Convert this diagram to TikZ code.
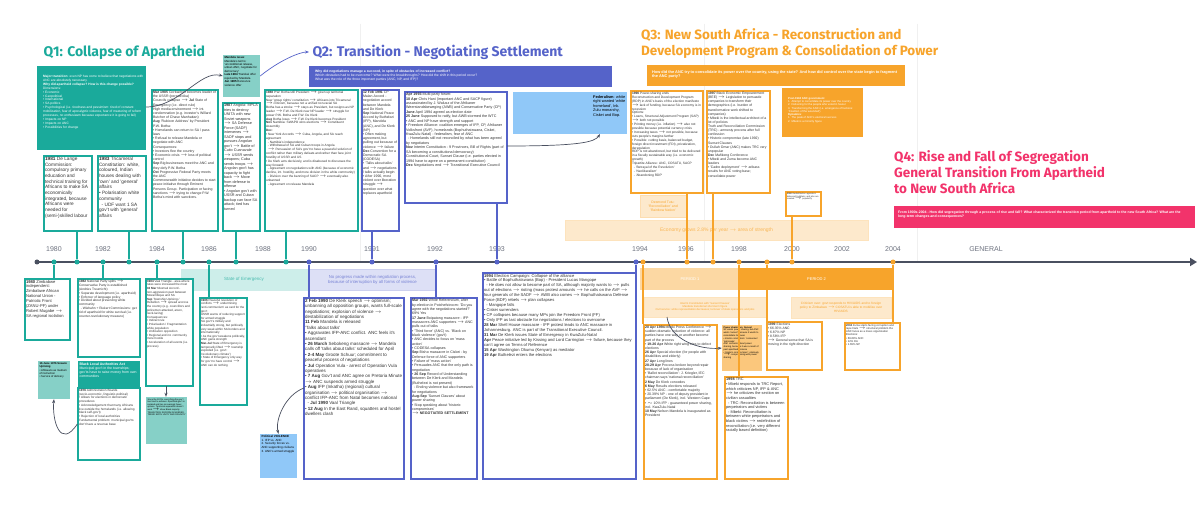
\documentclass[tikz,border=0pt]{standalone}
\usepackage{fontspec}
\setmainfont{Liberation Sans}
\newfontfamily\titlefont{Fira Sans}
\usetikzlibrary{fit,arrows.meta}
\definecolor{cteal}{HTML}{1AAA9B}
\definecolor{cblue}{HTML}{5563C9}
\definecolor{corange}{HTML}{F7A42B}
\definecolor{cpink}{HTML}{F2336B}
\definecolor{caxis}{HTML}{4A5060}
\definecolor{cltteal}{HTML}{CDEEEA}
\definecolor{cstick}{HTML}{86D0C7}
\definecolor{cltblue}{HTML}{DDE0F6}
\definecolor{cskyblue}{HTML}{90C8F8}
\definecolor{cltorange}{HTML}{FDE9CC}
\definecolor{cmidorange}{HTML}{FBC77C}
\newcommand{\fst}[1]{\fontsize{#1pt}{\dimexpr #1pt*12/10\relax}\selectfont}
\newcommand{\fs}[1]{\fontsize{\dimexpr #1pt*125/100\relax}{\dimexpr #1pt*150/100\relax}\selectfont}
\tikzset{
 frame/.style={inner sep=0pt,line width=1.3pt,fill=white},
 txt/.style={anchor=north west,inner sep=1.5pt,align=flush left,text=black!80},
 note/.style={anchor=north west,inner sep=1.5pt,align=flush left},
 dot/.style={circle,inner sep=0pt,minimum size=5pt},
 yr/.style={text=caxis!80,font=\fst{7}},
 conn/.style={line width=1.3pt},
 curv/.style={draw=caxis,line width=0.7pt,-{Stealth[length=4pt]}},
}
\newcommand{\bx}[8]{%
 \node[frame,draw=#6,fit={(#2,#3)(#4,#5)}] (#1) {};
 \pgfmathsetmacro\tw{#4-#2-3}
 \node[txt,text width=\tw pt,font=\fs{#7}] at (#1.north west) {#8};}
\begin{document}
\begin{tikzpicture}[x=1pt,y=-1pt]
\useasboundingbox (0,0) rectangle (1200,505);
\fill[white] (0,0) rectangle (1200,505);
\draw[black!6] (360,24) -- (360,262) (704,24) -- (704,262) (917,24)--(917,262);
\node[anchor=west,text=cteal,font=\titlefont\bfseries\fst{14}] (q1) at (40,52) {Q1: Collapse of Apartheid};
\node[anchor=west,text=cblue,font=\titlefont\bfseries\fst{14}] (q2) at (309,52) {Q2: Transition - Negotiating Settlement};
\node[anchor=north west,text=corange,font=\titlefont\bfseries\fst{13.5},align=left,inner sep=0pt] (q3) at (641,28) {Q3: New South Africa - Reconstruction and\\Development Program \& Consolidation of Power};
\node[anchor=north west,text=cpink,font=\titlefont\bfseries\fst{13.5},align=left,inner sep=0pt] (q4) at (894,150) {Q4: Rise and Fall of Segregation\\General Transition From Apartheid\\to New South Africa};
\node[fill=cteal,inner sep=0pt,fit={(37,66)(146,150)}] (q1b) {};
\node[note,text width=100pt,inner sep=2pt,text=white,font=\fs{2.6}] at (41,73) {\textbf{Major transition}: even NP has come to believe that negotiations with ANC are absolutely necessary.\\ \textbf{Why did apartheid collapse? How is this change possible?}\\Dimensions:\\ \textbullet\ Economic\\ \textbullet\ Geopolitical\\ \textbullet\ International\\ \textbullet\ SA politics\\ \textbullet\ Psychological (i.e. tiredness and pessimism: tired of constant mobilization, fear of apocalyptic violence, fear of mastering of reform processes, no enthusiasm because expectance it is going to fail)\\ \textbullet\ Impacts on NP\\ \textbullet\ Impacts on ANC\\ \textbullet\ Possibilities for change};
\node[fill=cstick,inner sep=0pt,fit={(223,55)(260,97)}] (mand) {};
\node[note,text width=34pt,font=\fs{2.3}] at (mand.north west) {\textbf{Mandela issue}:\\Mandela's terms: 'unconditional release, unban ANC, negotiate for democracy'\\ \textbf{Late 1984} Transkei offer rejected by Mandela\\ \textbf{Jan 1985} Renounce violence offer};
\node[fill=cblue,inner sep=0pt,fit={(309,66)(612,87)}] (q2b) {};
\node[note,text width=296pt,inner sep=2pt,text=white,font=\fs{2.7}] at (313,68) {\textbf{Why did negotiations manage a succeed, in spite of obstacles of increased conflict?}\\Which obstacles had to be overcome? What were the breakthroughs? How did the shift in this period occur?\\What was the role of the three important parties (ANC, NP, and IFP)?};
\node[fill=corange,inner sep=0pt,fit={(647,65)(905,86)}] (q3b) {};
\node[note,text width=250pt,inner sep=2pt,text=white,font=\bfseries\fs{3.1}] at (650,68) {How did the ANC try to consolidate its power over the country, using the state? And how did control over the state begin to fragment the ANC party?};
\node[fill=corange,inner sep=0pt,fit={(782,88)(863,137)}] (post) {};
\node[note,text width=76pt,inner sep=2pt,text=white,font=\fs{2.2}] at (786,95) {\textbf{Post-1994 ANC government}\\1. Attempt to consolidate its power over the country\\2. Delivering for the people who voted in favour\\3. Transforming the ANC (i.e. emergence of factions: 'Coalition of the wounded')\\ \textbf{Dynamics}:\\1. The peak of ANC's electoral success\\2. Mbeki is a minority figure};
\node[fill=cpink,inner sep=0pt,fit={(894,206)(1195,228)}] (q4b) {};
\node[note,text width=296pt,inner sep=2pt,text=white,font=\bfseries\fs{2.8}] at (896,209) {From 1900s-2004 - How did segregation through a process of rise and fall? What characterized the transition period from apartheid to the new South Africa? What are the long-term changes and consequences?};
\node[fill=cskyblue,inner sep=0pt,fit={(513,92)(627,134)}] (fed) {};
\node[note,text width=35pt,inner sep=2pt,font=\fs{3.1}] at (591,93) {\textbf{Federalism}: white right wanted 'white homeland', Ink. Zulu monarchy, Ciskei and Bop.};
\bx{b81}{44}{156}{92}{231}{cteal}{3.8}{\textbf{1981} De Lange Commission: compulsory primary education and technical training for Africans to make SA economically integrated, because Africans were needed for (semi-)skilled labour}
\bx{b83}{98}{156}{146}{231}{cteal}{3.8}{\textbf{1983} Tricameral Constitution: white, coloured, Indian houses dealing with 'own' and 'general' affairs\\ \textbullet\ Polarisation white community\\ \ \ - UDF want 1 SA gov't with 'general' affairs}
\bx{b85}{152}{90}{218}{231}{cteal}{2.8}{\textbf{Mar 1985} Gorbachev becomes leader of the USSR (perestroika)\\Councils collapse $\to$ \textbf{Jul} State of Emergency (i.e. direct rule)\\High media environment $\to$ int. condemnation (e.g. investor's Willard Butcher of Chase Manhattan)\\ \textbf{Aug} 'Rubicon Address' by President P.W. Botha:\\ \textbullet\ Homelands can return to SA / pass laws\\ \textbullet\ Refusal to release Mandela or negotiate with ANC\\Consequences:\\ \textbullet\ Investors flee the country\\ \textbullet\ Economic crisis $\to$ loss of political control\\ \textbf{Sep} Big businesses meet the ANC and they defy P.W. Botha\\ \textbf{Oct} Progressive Federal Party meets the ANC\\Commonwealth initiative decides to start peace initiative through Eminent Persons Group. Participation or facing sanctions $\to$ trying to change P.W. Botha's mind with sanctions.}
\bx{b87}{223}{103}{260}{231}{cteal}{3.0}{\textbf{1987} Angola: MPLA tries to destroy UNITA with new Soviet weapons $\to$ SA Defense Force (SADF) intervenes $\to$ SADF stops and pursues Angolan gov't $\to$ Battle of Cuito Cuanavale $\to$ USSR sends weapons; Cuba sends troops $\to$ Angolan gov't has capacity to fight back $\to$ Move from defense to offense\\ \textbullet\ Angolan gov't with USSR and Cuban backup can face SA attack; tied has turned}
\bx{b88}{265}{90}{358}{231}{cteal}{2.55}{\textbf{1988} P.W. Botha still President $\to$ given up territorial separation\\New 'group rights' constitution $\to$ Africans into Tricameral $\to$ criticism, because not a unified non-racial SA\\Botha has a stroke $\to$ stays as President, but resigns as NP leader $\to$ F.W. De Klerk new NP leader $\to$ struggle for power P.W. Botha and F.W. De Klerk\\ \textbf{Aug} Botha loses $\to$ F.W. De Klerk becomes President\\ \textbf{Nov} Namibia: SWAPO wins elections $\to$ Constituent Assembly\\ \textbf{Dec}:\\ \textbullet\ New York Accords $\to$ Cuba, Angola, and SA reach agreement\\ \ \ - Namibia's independence\\ \ \ - Withdrawal of SA and Cuban troops in Angola\\ \ \ $\to$ Persuasion of SA's gov't to have a peaceful solution of conflict rather than military defeats and rather than face joint hostility of USSR and US\\ \textbullet\ De Klerk acts decisively, and is disabused to discusses the way forward:\\ \ \ - Agreement on negotiations with ANC (because of economic decline, int. hostility, and more division in the white community)\\ \ \ - Division over the banning of SACP $\to$ eventually also unbanned\\ \ \ - Agreement on release Mandela}
\bx{b91}{362}{90}{399}{231}{cblue}{2.8}{\textbf{12 Feb 1991} CP Malan Accord - negotiation accord between Mandela and De Klerk\\ \textbf{Sep} National Peace Accord by Buthelezi (IFP), Mandela (ANC), and De Klerk (NP)\\ \textbullet\ Often making agreement, but pulling out because of violence $\to$ failure\\ \textbf{Dec} Convention for a Democratic SA (CODESA)\\ \textbullet\ 'Talks about talks' and $\to$ negotiations / talks actually begin\\ \textbullet\ After 1990, most violent over liberation struggle $\to$ question over what replaces apartheid}
\bx{b93}{405}{92}{507}{203}{cblue}{2.95}{\textbf{Apr 1993} Multi-party forum:\\ \textbf{10 Apr} Chris Hani (important ANC and SACP figure) assassinated by J. Walusz of the Afrikaner Weerstandsbeweging (AWB) and Conservative Party (CP)\\ \textbf{June} April 1994 agreed as election date\\ \textbf{25 June} Supposed to ratify, but AWB stormed the WTC\\ \textbullet\ ANC and NP have strength and support\\ \textbullet\ Freedom Alliance: coalition emerges of IFP, CP, Afrikaner Volksfront (AVF), homelands (Bophuthatswana, Ciskei, KwaZulu-Natal) - federalism, fear of ANC\\ \ \ - Homelands still not reconciled by what has been agreed by negotiators\\ \textbf{Nov} Interim Constitution - 9 Provinces, Bill of Rights (part of SA becoming a constitutional democracy)\\Constitutional Court, Sunset Clause (i.e. parties elected in 1994 have to agree on a permanent constitution)\\ \textbf{Dec} Negotiations end $\to$ Transitional Executive Council}
\bx{b96}{631}{91}{703}{193}{corange}{2.6}{\textbf{1996} Power-sharing ends\\Reconstruction and Development Program (RDP) in ANC's basis of the election manifesto $\to$ lack of funding, because SA economy is in recession\\Options:\\ \textbullet\ Loans, Structural Adjustment Program (SAP) $\to$ both not possible\\ \textbullet\ Printing money (i.e. inflation) $\to$ also not possible because potential currency crisis\\ \textbullet\ Increasing taxes $\to$ not possible, because cuts people's margins farther\\ \textbullet\ Possible: cutting basis, balanced budget, foreign direct investment (FDI), privatization, deregulation\\RDP is not abandoned, but tried to be delivered in a fiscally sustainable way (i.e. economic growth)\\Tripartite Alliance: ANC, COSATU, SACP\\ \ \ - 'Betrayal of the Revolution'\\ \ \ - 'Neoliberalism'\\ \ \ - 'Abandoning RDP'}
\bx{b97}{707}{91}{770}{193}{corange}{2.75}{\textbf{1997} Black Economic Empowerment (BEE) $\to$ Legislation to persuade companies to transform their demographics (i.e. burden of transformative work shifted to companies)\\ \textbullet\ Mbeki is the intellectual architect of a lot of policies\\Truth and Reconciliation Commission (TRC) - amnesty process after full confession\\ \textbullet\ Historic compromise (late 1992) Sunset Clauses\\ \textbullet\ Dullah Omar (ANC) makes TRC very unpopular\\ \textbf{Dec} Mafikeng Conference\\ \textbullet\ Mbeki and Zuma become ANC leaders\\ \textbullet\ 'Cadre deployment' $\to$ aribass results for ANC voting base; consolidate power}
\node[fill=cltorange,draw=cmidorange!60,inner sep=0pt,fit={(640,195)(686,217)}] (tutu) {};
\node[text=corange,font=\fst{3.4},align=center] at (tutu) {Desmond Tutu:\\'Reconciliation' and\\'Rainbow Nation'};
\bx{b00}{786}{192}{821}{216}{corange}{1.75}{\textbf{2000} Redistribution agenda is delivered by Mbeki, and jobs are created $\to$ popularity}
\node[fill=cltorange,draw=cmidorange!50,inner sep=0pt,fit={(565,220)(868,240)}] (econ) {};
\node[text=corange!80,font=\fst{5}] at (econ) {Economy grows 2.8\% per year $\to$ area of strength};
\coordinate (tstart) at (37,262);
\coordinate (tend) at (1197,262);
\draw[caxis,line width=2pt,-{Triangle[length=7pt,width=8pt]}] (tstart) -- (tend);
\node[dot,fill=caxis] at (tstart) {};
\foreach \n/\x/\c in {d1/54/cteal,d2/77/cteal,d3/103/cteal,d4/129/cteal,d5/157/cteal,d6/183/cteal,d7/209/cteal,d8/236/cteal,d9/286/cteal,d10/309/cblue,d11/372/cblue,d12/436/cblue,d13/497/cblue,d14/636/cblue,d15/643/corange,d16/687/corange,d17/713/corange,d18/739/corange,d19/767/corange,d20/792/corange,d21/893/corange}
  \node[dot,fill=\c] (\n) at (\x,262) {};
\foreach \y/\x in {1980/54,1982/103,1984/157,1986/209,1988/263,1990/309,1991/372,1992/435,1993/497,1994/640,1996/686,1998/739,2000/792,2002/842,2004/893}
  \node[yr] at (\x,249) {\y};
\node[yr] at (986,249) {GENERAL};
\foreach \b/\d/\c in {b81/d2/cteal,b83/d4/cteal,b85/d6/cteal,b87/d8/cteal,b88/d9/cteal,b91/d11/cblue,b93/d13/cblue,b96/d16/corange,b97/d17/corange,b00/d20/corange}
  \draw[conn,\c] (\d) -- (\d |- \b.south);
\node[fill=cltteal,draw=cstick!40,inner sep=0pt,fit={(181,269)(307,290)}] (soe) {};
\node[text=cteal!80,font=\fst{4.5}] at (soe) {State of Emergency};
\node[fill=cltblue,draw=cblue!30,inner sep=0pt,fit={(309,269)(436,290)}] (nop) {};
\node[text=cblue!80,font=\fst{4.3},align=center] at (nop) {No progress made within negotiation process,\\because of interruption by all forms of violence};
\node[fill=cmidorange!70,inner sep=0pt,fit={(640,268)(740,290)}] (p1) {};
\node[text=white,font=\fst{4}] at (p1) {PERIOD 1};
\node[fill=corange,inner sep=0pt,fit={(740,268)(893,290)}] (p2) {};
\node[text=white,font=\fst{4}] at (p2) {PERIOD 2};
\node[fill=cltorange,draw=cmidorange!50,inner sep=0pt,fit={(644,297)(766,317)}] (interim) {};
\node[text=corange,font=\fst{2.7},align=center] at (interim) {Interim Constitution with 'Sunset Clauses'\\Mandela transitional short-term figure\\Civil service: white representation decreases; turnover of state operations and jobs};
\node[fill=cltorange,draw=cmidorange!50,inner sep=0pt,fit={(791,297)(891,318)}] (crit) {};
\node[text=corange,font=\fst{3.2},align=center] at (crit) {Criticism over: govt responds to HIV/AIDS and to foreign\\policy to Zimbabwe $\to$ COSATU is able to mobilize over\\HIV/AIDS};
\bx{b80}{25}{279}{70}{340}{cteal}{3.3}{\textbf{1980} Zimbabwe independent: Zimbabwe African National Union - Patriotic Front (ZANU-PF) under Robert Mugabe $\to$ SA regional isolation}
\bx{b82}{78}{279}{140}{357}{cteal}{2.6}{\textbf{1982} National Party splits $\to$ Conservative Party is established (Andries Treurnicht)\\ \textbullet\ Separate development (i.e. apartheid)\\ \textbullet\ Enforcer of language policy\\ \textbullet\ Divided about preserving white community\\ \ \ - Wiehahn + Riekert Commissions: get rid of apartheid for white survival (i.e. counter-revolutionary measure)}
\bx{b84}{146}{279}{193}{386}{cteal}{2.4}{\textbf{1984} Vaal Triangle - area where rates were increased the most\\ \textbf{16 Mar} Nkomati Accord - non-aggression pact between Mozambique and SA\\ \textbf{Sep} Township Uprising / Rebellion $\to$ spread accross the country (e.g. councillors and policemen attacked, arson, neck-lacing)\\Consequences:\\ \textbullet\ Indirect rule\\ \textbullet\ Polarisation / Frag\-mentation white population\\ \textbullet\ Unification opposition\\ \textbullet\ Regional and int. community more hostile\\ \textbullet\ Acceleration of all events (i.e. process)}
\bx{b86}{200}{298}{247}{405}{cteal}{2.4}{\textbf{1986} Peaceful resolution of conflicts $\to$ undermining 'anti-communism' as card for the gov't\\USSR warns of reducing support for armed struggle\\SA gov't's military and industrially strong, but politically very weak within SA borders and internationally\\ \textbullet\ As the gov't weakens politically, ANC gains strength\\ \textbf{Mar-Jul} State of Emergency is temporarily lifted $\to$ township exploded (i.e. gov't: 'revolutionary climate')\\ \textbullet\ State of Emergency only way for gov't to have control $\to$ ANC can do nothing}
\node[fill=cstick,inner sep=0pt,fit={(38,361)(70,399)}] (s76) {};
\node[note,text width=29pt,font=\fs{2.2}] at (s76.north west) {\textbf{16 June 1976 Soweto Uprising}\\ \textbullet\ Afrikaans as medium of instruction\\ \textbullet\ Service of delivery};
\node[fill=cteal,inner sep=0pt,fit={(78,361)(140,388)}] (bla) {};
\node[note,text width=58pt,text=white,font=\fs{2.8}] at (bla.north west) {\textbf{Black Local Authorities Act}\\Municipal gov't in the townships; gov'ts have to raise money from own communities};
\bx{b76}{78}{388}{140}{460}{cteal}{2.5}{\textbf{1976} Administration Boards (socio-economic, linguistic-political)\\ \textbullet\ Allows for elections in democratic procedures\\ \textbullet\ Acknowledgement that many Africans live outside the homelands (i.e. allowing black self-gov't)\\ \textbullet\ Rejection of local authorities\\Fundamental problem: municipal gov'ts don't have a revenue base}
\node[fill=cstick,inner sep=0pt,fit={(146,397)(187,444)}] (s84) {};
\node[note,text width=38pt,font=\fs{1.75}] at (s84.north west) {Since the 1970s, everything the gov't has tried to achieve: Apartheid gov't is isolated and has increasingly fewer options. Territorial separation doesn't work $\to$ show Black majority. TRANSITION: REFORM IS NEEDED.\\TREND: BOTH UNITY AND DISUNITY};
\node[fill=cskyblue,inner sep=0pt,fit={(260,434)(297,478)}] (pv) {};
\node[note,text width=34pt,font=\fs{2.4}] at (pv.north west) {\textbf{Political VIOLENCE}\\1. IFP vs. ANC\\2. Security forces vs. ANC supporting civilians\\3. ANC's armed struggle};
\bx{b90}{304}{298}{404}{479}{cblue}{3.6}{\textbf{2 Feb 1990} De Klerk speech $\to$ optimism; unbanning all opposition groups, wants full-scale negotiations; explosion of violence $\to$ destabilization of negotiations\\ \textbf{11 Feb} Mandela is released\\'Talks about talks'\\ \textbullet\ Aggravates IFP-ANC conflict. ANC feels it's ascendant\\ \textbullet\ \textbf{26 March} Sebokeng massacre $\to$ Mandela calls off 'talks about talks' scheduled for April\\ \textbullet\ \textbf{2-4 May} Groote Schuur; commitment to peaceful process of negotiations\\ \textbullet\ \textbf{Jul} Operation Vula - arrest of Operation Vula operatives\\ \textbullet\ \textbf{7 Aug} Gov't and ANC agree on Pretoria Minute $\to$ ANC suspends armed struggle\\ \textbullet\ \textbf{Aug} IFP (Inkatha) (regional) cultural organisation $\to$ political organisation $\to$ conflict IFP-ANC from Natal becomes national\\ \ \ - \textbf{Jul 1990} Vaal Triangle\\ \textbullet\ \textbf{12 Aug} In the East Rand, squatters and hostel dwellers clash}
\bx{b92}{411}{298}{477}{479}{cblue}{2.9}{\textbf{Mar 1992} White Referendum, after by-election in Potchefstroom: 'Do you agree with the negotiations started?' 69\% Yes\\ \textbf{17 June} Boipatong massacre - IFP massacres ANC supporters $\to$ ANC pulls out of talks\\ \textbullet\ 'Third force' (ANC) vs. 'Black on black violence' (gov't)\\ \textbullet\ ANC decides to focus on 'mass action'\\ \textbullet\ CODESA collapses\\ \textbf{Sep} Bisho massacre in Ciskei - by Defense force of ANC supporters\\ \textbullet\ Failure of 'mass action'\\ \textbullet\ Persuades ANC that the only path is negotiation\\ \textbullet\ \textbf{26 Sep} Record of Understanding between De Klerk and Mandela (Buthelezi is not present)\\ \ \ - Ending violence but also framework for negotiations\\ \textbf{Aug-Sep} 'Sunset Clauses' about power sharing\\ \textbullet\ Stop speaking about 'historic compromises'\\ $\to$ \textbf{NEGOTIATED SETTLEMENT}}
\bx{b94e}{483}{273}{636}{479}{cblue}{3.3}{\textbf{1994} Election Campaign: Collapse of the alliance\\ \textbullet\ Battle of Bophuthatswana (Bop) - President Lucas Mangope\\ \ \ - He does not allow to become part of SA, although majority wants to $\to$ pulls out of elections $\to$ rioting (mass protest amounts $\to$ he calls on the AVF $\to$ four generals of the SADF $\to$ AWB also comes $\to$ Bophuthatswana Defense Force (BDF) rebels $\to$ plan collapses\\ \ \ - Mangope falls\\ \textbullet\ Ciskei surrenders\\ \textbullet\ CP collapses because many MPs join the Freedom Front (FF)\\ \textbullet\ Only IFP as last obstacle for negotiations / elections to overcome\\ \textbf{28 Mar} Shell House massacre - IFP protest leads to ANC massacre in Johannesburg. ANC is part of the Transitional Executive Council.\\ \textbf{31 Mar} De Klerk issues State of Emergency in KwaZulu-Natal\\ \textbf{Apr} Peace initiative led by Kissing and Lord Carrington $\to$ failure, because they can't agree on Terms of Reference\\ \textbf{15 Apr} Washington Okumu (Kenyan) as mediator\\ \textbf{19 Apr} Buthelezi enters the elections}
\bx{b94}{644}{325}{717}{479}{corange}{2.8}{\textbf{20 Apr 1994} Mbeki Press Conference $\to$ sudden dramatic reduction of violence: all parties have one way or another become part of the process\\ \textbullet\ \textbf{19-26 Apr} White right wing tries to defect elections\\ \textbf{26 Apr} Special election (for people with disabilities and elderly)\\ \textbf{27 Apr} Long lines\\ \textbf{28-29 Apr} Process broken beyond repair because of lack of organisation\\ \textbullet\ 'Ballot reconciliation': J. Kriegler, IEC chairman says 'national reconciliation'\\ \textbf{2 May} De Klerk concedes\\ \textbf{6 May} Results elections released\\ \textbullet\ 62.5\% ANC - comfortable majority\\ \textbullet\ 20.39\% NP - one of deputy president in parliament (De Klerk), incl. Western Cape\\ \textbullet\ $\sim$ 10\% IFP - guaranteed power sharing, incl. KwaZulu-Natal\\ \textbf{10 May} Nelson Mandela is inaugurated as President}
\node[fill=cmidorange,inner sep=0pt,fit={(722,325)(762,371)}] (ps) {};
\node[note,text width=37pt,font=\fs{1.85}] at (ps.north west) {\textbf{Power sharing vs. Sunset}\\NP wants power sharing, but ANC wants 'sunset' because it wants to consolidate its power\\ \textbullet\ Interim constitution: 'consensus' 'patronage'\\ANC concerns about power sharing, because it was a result of past apartheid violence\\ \textbullet\ 'Historic compromises': relatively $\to$ compromising with power sharing};
\bx{b98}{725}{377}{788}{479}{corange}{3.1}{\textbf{1998} TRC\\ \textbullet\ Mbeki responds to TRC Report, which criticizes NP, IFP \& ANC $\to$ he criticizes the section on civilian casualties\\ \ \ - TRC: Reconciliation is between perpetrators and victims\\ \ \ - Mbeki: Reconciliation is between white perpetrators and black victims $\to$ redefinition of reconciliation (i.e. very different racially based definition)}
\bx{b99}{767}{322}{822}{370}{corange}{2.7}{\textbf{1999} Elections\\ \textbullet\ 66.35\% ANC\\ \textbullet\ 6.87\% NP\\ \textbullet\ 8.58\% IFP\\$\to$ General sense that SA is moving in the right direction}
\bx{b04}{845}{323}{900}{370}{corange}{2.2}{\textbf{2004} Zuma starts facing corruption and rape trials $\to$ structural problem the ANC faces as a mass organization\\Elections:\\ \textbullet\ 69.69\% ANC\\ \textbullet\ 12\% DA\\ \textbullet\ 1.65\% NP}
\draw[conn,cteal] (d1) -- (d1 |- b80.north);
\draw[conn,cteal] (d3) -- (d3 |- b82.north);
\draw[conn,cteal] (d5) -- (d5 |- b84.north);
\draw[conn,cteal] (d7) -- (d7 |- b86.north);
\draw[conn,cblue] (d10) -- (d10 |- b90.north);
\draw[conn,cblue] (d12) -- (d12 |- b92.north);
\draw[conn,cblue] (d14) -- (d14 |- b94e.north);
\draw[conn,corange] (d15) -- (d15 |- b94.north);
\draw[conn,corange] (d18) -- (d18 |- b98.north);
\draw[conn,corange] (d19) -- (d19 |- b99.north);
\draw[conn,corange] (d21) -- (d21 |- b04.north);
\coordinate (a1) at (146,107);
\draw[curv] (a1) .. controls (180,107) and (200,70) .. (mand.west);
\draw[draw=cblue,line width=0.7pt,-{Stealth[length=4pt]}] (mand.east) .. controls (280,60) and (300,52) .. (q2.west);
\draw[curv] (b76.west) .. controls (60,450) and (52,420) .. (s76.south);
\coordinate (a2) at (166,386);
\draw[curv] (a2) -- (s84.north -| a2);
\coordinate (a3) at (304,388);
\draw[curv] (a3) .. controls (285,395) and (275,420) .. (pv.north);
\coordinate (a4) at (507,146);
\coordinate (a5) at (600,134);
\draw[curv] (a4) .. controls (580,146) and (595,142) .. (a5);
\coordinate (a6) at (667,317);
\draw[curv] (a6) .. controls (670,340) and (700,350) .. (ps.west);
\end{tikzpicture}
\end{document}
